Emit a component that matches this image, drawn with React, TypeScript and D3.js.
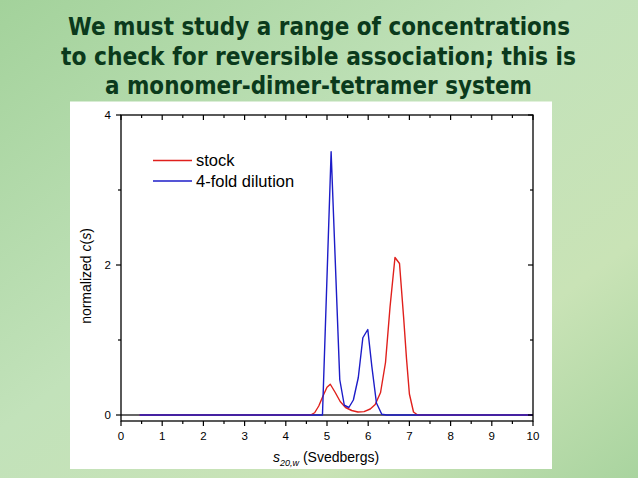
import React, { useEffect, useRef } from 'react';
import * as d3 from 'd3';

// sedimentation coefficient distributions
const stockS = [0.45, 4.6, 4.7, 4.8, 4.9, 5.0, 5.08, 5.2, 5.32, 5.45, 5.6, 5.75, 5.9, 6.05, 6.17, 6.3, 6.42, 6.53, 6.65, 6.76, 6.86, 6.93, 7.0, 7.1, 7.2, 10];
const stockC = [0, 0, 0.03, 0.12, 0.25, 0.37, 0.41, 0.3, 0.18, 0.1, 0.06, 0.04, 0.045, 0.08, 0.14, 0.3, 0.7, 1.44, 2.1, 2.02, 1.3, 0.75, 0.28, 0.04, 0, 0];

const diluteS = [0.45, 4.89, 5.1, 5.31, 5.42, 5.53, 5.64, 5.76, 5.87, 5.99, 6.09, 6.2, 6.33, 6.45, 10];
const diluteC = [0, 0, 3.51, 0.47, 0.13, 0.1, 0.2, 0.5, 1.03, 1.14, 0.64, 0.16, 0.01, 0, 0];

const seriesNames = ['stock', '4-fold dilution'];
const seriesColors = ['#e0201c', '#1c1cc8'];

const xTicks = [0, 1, 2, 3, 4, 5, 6, 7, 8, 9, 10];
const yTicks = [0, 2, 4];

const titleLines = [
  'We must study a range of concentrations',
  'to check for reversible association; this is',
  'a monomer-dimer-tetramer system',
];

const W = 638;
const H = 478;

export default function App() {
  const svgRef = useRef<SVGSVGElement>(null);

  useEffect(() => {
    if (!svgRef.current) return;
    const svg = d3.select(svgRef.current);
    svg.selectAll('*').remove();

    // background
    const defs = svg.append('defs');
    const grad = defs.append('linearGradient')
      .attr('id', 'bg')
      .attr('x1', '0%').attr('y1', '0%')
      .attr('x2', '100%').attr('y2', '100%');
    grad.append('stop').attr('offset', '0%').attr('stop-color', '#a3d29b');
    grad.append('stop').attr('offset', '45%').attr('stop-color', '#c2e2ba');
    grad.append('stop').attr('offset', '75%').attr('stop-color', '#c9e3b6');
    grad.append('stop').attr('offset', '100%').attr('stop-color', '#a9d49f');
    svg.append('rect').attr('width', W).attr('height', H).attr('fill', 'url(#bg)');

    // title
    const titleExtents = [[68, 570], [61, 576], [105, 532]];
    titleLines.forEach((t, i) => {
      const [a, b] = titleExtents[i];
      svg.append('text')
        .attr('x', a)
        .attr('y', 35 + i * 29.5)
        .attr('textLength', b - a)
        .attr('lengthAdjust', 'spacingAndGlyphs')
        .style('font-family', '"Comic Sans MS", "DejaVu Sans", sans-serif')
        .style('font-weight', 'bold')
        .style('font-size', '24px')
        .style('fill', '#0b3a1c')
        .text(t);
    });

    // white panel
    svg.append('rect')
      .attr('x', 70).attr('y', 101.5)
      .attr('width', 482).attr('height', 367.5)
      .attr('fill', '#ffffff');

    const x = d3.scaleLinear().domain([0, 10]).range([121, 533]);
    const y = d3.scaleLinear().domain([-0.08, 4]).range([421, 115]);

    const font = 'Arial, "Liberation Sans", sans-serif';
    const g = svg.append('g');

    const line = d3.line<[number, number]>()
      .x((d) => x(d[0]))
      .y((d) => y(d[1]));

    // zero line
    g.append('line')
      .attr('x1', x(0)).attr('x2', x(10))
      .attr('y1', y(0)).attr('y2', y(0))
      .attr('stroke', '#333')
      .attr('stroke-width', 1.6);

    const stock: [number, number][] = stockS.map((s, i) => [s, stockC[i]]);
    const dilute: [number, number][] = diluteS.map((s, i) => [s, diluteC[i]]);

    g.append('path')
      .datum(stock)
      .attr('fill', 'none')
      .attr('stroke', seriesColors[0])
      .attr('stroke-width', 1.4)
      .attr('stroke-linejoin', 'round')
      .attr('d', line);

    g.append('path')
      .datum(dilute)
      .attr('fill', 'none')
      .attr('stroke', seriesColors[1])
      .attr('stroke-width', 1.4)
      .attr('stroke-linejoin', 'round')
      .attr('d', line);

    // frame
    g.append('rect')
      .attr('x', x(0)).attr('y', y(4))
      .attr('width', x(10) - x(0)).attr('height', y(-0.08) - y(4))
      .attr('fill', 'none')
      .attr('stroke', '#000')
      .attr('stroke-width', 1.3);

    const xMinor = d3.range(0.5, 10, 1);
    const yMinor = [1, 3];

    // bottom axis: outward ticks
    const bottom = y(-0.08);
    xTicks.forEach((t) => {
      g.append('line').attr('x1', x(t)).attr('x2', x(t))
        .attr('y1', bottom).attr('y2', bottom + 5)
        .attr('stroke', '#000').attr('stroke-width', 1.2);
      g.append('line').attr('x1', x(t)).attr('x2', x(t))
        .attr('y1', y(4)).attr('y2', y(4) + 5)
        .attr('stroke', '#000').attr('stroke-width', 1.2);
      g.append('text')
        .attr('x', x(t)).attr('y', 440)
        .attr('text-anchor', 'middle')
        .style('font-family', font)
        .style('font-size', '11.5px')
        .text(String(t));
    });
    xMinor.forEach((t) => {
      g.append('line').attr('x1', x(t)).attr('x2', x(t))
        .attr('y1', bottom).attr('y2', bottom + 3)
        .attr('stroke', '#000').attr('stroke-width', 1.2);
      g.append('line').attr('x1', x(t)).attr('x2', x(t))
        .attr('y1', y(4)).attr('y2', y(4) + 3)
        .attr('stroke', '#000').attr('stroke-width', 1.2);
    });

    // left axis: outward ticks, right axis: inward ticks
    yTicks.forEach((t) => {
      g.append('line').attr('x1', x(0) - 5).attr('x2', x(0))
        .attr('y1', y(t)).attr('y2', y(t))
        .attr('stroke', '#000').attr('stroke-width', 1.2);
      g.append('line').attr('x1', x(10) - 5).attr('x2', x(10))
        .attr('y1', y(t)).attr('y2', y(t))
        .attr('stroke', '#000').attr('stroke-width', 1.2);
      g.append('text')
        .attr('x', 111).attr('y', y(t) + 4)
        .attr('text-anchor', 'end')
        .style('font-family', font)
        .style('font-size', '11.5px')
        .text(String(t));
    });
    yMinor.forEach((t) => {
      g.append('line').attr('x1', x(0) - 3).attr('x2', x(0))
        .attr('y1', y(t)).attr('y2', y(t))
        .attr('stroke', '#000').attr('stroke-width', 1.2);
      g.append('line').attr('x1', x(10) - 3).attr('x2', x(10))
        .attr('y1', y(t)).attr('y2', y(t))
        .attr('stroke', '#000').attr('stroke-width', 1.2);
    });

    // x label
    const xl = g.append('text')
      .attr('x', 273).attr('y', 461.5)
      .style('font-family', font)
      .style('font-size', '14px');
    xl.append('tspan').style('font-style', 'italic').text('s');
    xl.append('tspan').style('font-style', 'italic').style('font-size', '9px')
      .attr('dy', 4).text('20,w');
    xl.append('tspan').attr('dy', -4).text(' (Svedbergs)');

    // y label
    const yl = g.append('text')
      .attr('transform', 'translate(91,276) rotate(-90)')
      .attr('text-anchor', 'middle')
      .style('font-family', font)
      .style('font-size', '14px');
    yl.append('tspan').text('normalized ');
    yl.append('tspan').style('font-style', 'italic').text('c');
    yl.append('tspan').text('(');
    yl.append('tspan').style('font-style', 'italic').text('s');
    yl.append('tspan').text(')');

    // legend
    seriesNames.forEach((name, i) => {
      const ly = 160.5 + i * 20.5;
      g.append('line')
        .attr('x1', 153).attr('x2', 192)
        .attr('y1', ly).attr('y2', ly)
        .attr('stroke', seriesColors[i])
        .attr('stroke-width', 1.4);
      g.append('text')
        .attr('x', 196).attr('y', ly + 5.5)
        .style('font-family', font)
        .style('font-size', '16.5px')
        .text(name);
    });
  }, []);

  return (
    <div style={{ position: 'fixed', left: 0, top: 0 }}>
      <svg ref={svgRef} width={W} height={H} style={{ display: 'block' }} />
    </div>
  );
}
